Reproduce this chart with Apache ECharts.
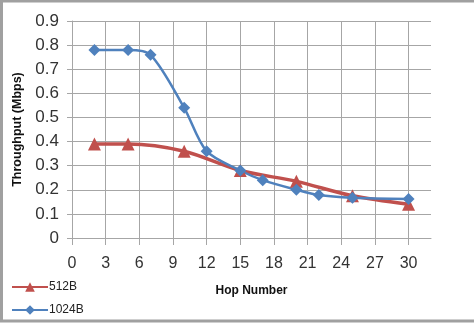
<!DOCTYPE html>
<html>
<head>
<meta charset="utf-8">
<script src="https://cdn.jsdelivr.net/npm/echarts@6/dist/echarts.min.js"></script>
<style>
  html, body { margin: 0; padding: 0; background: #fff; }
  #chart { width: 474px; height: 323px; }
</style>
</head>
<body>
<div id="chart"></div>
<script>
// Throughput against hop count for two packet sizes
const xTicks = [0, 3, 6, 9, 12, 15, 18, 21, 24, 27, 30];
const hops512 = [2, 5, 10, 15, 20, 25, 30];
const thr512 = [0.39, 0.39, 0.36, 0.28, 0.235, 0.175, 0.14];
const hops1024 = [2, 5, 7, 10, 12, 15, 17, 20, 22, 25, 30];
const thr1024 = [0.78, 0.78, 0.76, 0.54, 0.36, 0.28, 0.24, 0.2, 0.178, 0.167, 0.162];

const pairs = (xs, ys) => xs.map((x, i) => [x, ys[i]]);

const gridColor = '#a6a6a6';
const labelFont = 'Liberation Sans';

const chart = echarts.init(document.getElementById('chart'), null, { renderer: 'canvas' });
chart.setOption({
  animation: false,
  backgroundColor: '#ffffff',
  graphic: [{
    type: 'rect',
    shape: { x: 1.5, y: 1, width: 480, height: 320 },
    style: { fill: 'none', stroke: '#a0a0a0', lineWidth: 3 },
    silent: true
  }],
  grid: { left: 72, top: 21, right: 43, bottom: 85 },
  legend: {
    orient: 'vertical',
    left: 11,
    top: 281,
    padding: 0,
    itemWidth: 36,
    itemHeight: 12,
    itemGap: 11,
    textStyle: { fontFamily: labelFont, fontSize: 12, color: '#222', padding: [0, 0, 0, -4] },
    data: ['512B', '1024B']
  },
  xAxis: {
    type: 'value',
    min: 0,
    max: 32,
    interval: 3,
    name: 'Hop Number',
    nameLocation: 'middle',
    nameGap: 53,
    nameTextStyle: { fontFamily: labelFont, fontWeight: 'bold', fontSize: 12, color: '#111', verticalAlign: 'middle' },
    axisLine: { show: true, lineStyle: { color: gridColor, width: 1 } },
    axisTick: { show: true, length: 7, inside: false, customValues: xTicks, lineStyle: { color: gridColor } },
    axisLabel: { customValues: xTicks, margin: 18, fontFamily: labelFont, fontSize: 16, color: '#333' },
    splitLine: { show: true, lineStyle: { color: gridColor, width: 1 } }
  },
  yAxis: {
    type: 'value',
    min: 0,
    max: 0.9,
    interval: 0.1,
    name: 'Throughput (Mbps)',
    nameLocation: 'middle',
    nameGap: 43,
    nameTextStyle: { fontFamily: labelFont, fontWeight: 'bold', fontSize: 12.5, color: '#111' },
    axisLine: { show: true, lineStyle: { color: gridColor, width: 1 } },
    axisTick: { show: true, length: 5, lineStyle: { color: gridColor } },
    axisLabel: { margin: 13, fontFamily: labelFont, fontSize: 17, color: '#333', formatter: v => (Math.round(v * 10) / 10).toString() },
    splitLine: { show: true, lineStyle: { color: gridColor, width: 1 } }
  },
  series: [
    {
      name: '512B',
      type: 'line',
      smooth: 0.3,
      data: pairs(hops512, thr512),
      symbol: 'triangle',
      symbolSize: 13,
      itemStyle: { color: '#C0504D' },
      lineStyle: { color: '#C0504D', width: 3.5 }
    },
    {
      name: '1024B',
      type: 'line',
      smooth: 0.3,
      data: pairs(hops1024, thr1024),
      symbol: 'diamond',
      symbolSize: 12,
      itemStyle: { color: '#4F81BD' },
      lineStyle: { color: '#4F81BD', width: 2.5 }
    }
  ]
});
</script>
</body>
</html>
